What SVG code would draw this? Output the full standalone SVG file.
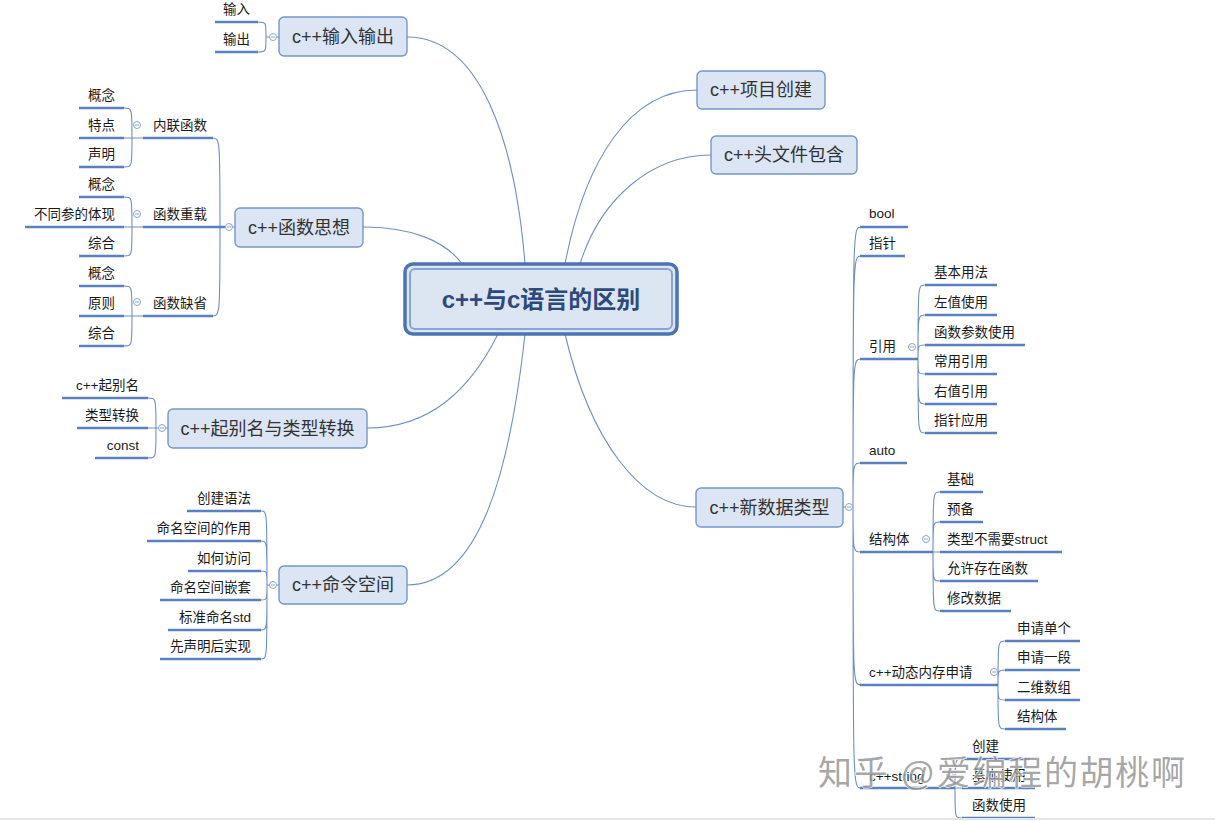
<svg xmlns="http://www.w3.org/2000/svg" width="1215" height="821" viewBox="0 0 1215 821">
<defs>
<style>
text{font-family:"Liberation Sans","Noto Sans CJK SC",sans-serif;}
.box{fill:#dbe5f3;stroke:#7596c9;stroke-width:1.4;}
.tt{font-size:18px;fill:#333;text-anchor:middle;}
.st{font-size:13.5px;fill:#1a1a1a;}
.e{text-anchor:end;}
.ul{stroke:#5a80c0;stroke-width:2.5;fill:none;}
.cn{stroke:#6f8fc6;stroke-width:1.1;fill:none;}
.tg{fill:#fff;stroke:#8ba4cf;stroke-width:1;}
.tm{stroke:#8ba4cf;stroke-width:1;}
</style>
</defs>
<rect width="1215" height="821" fill="#fff"/>

<g id="connectors">
<!-- main curves -->
<path class="cn" d="M525,264 C515,140 480,37 407,37"/>
<path class="cn" d="M463,265 C445,240 410,227 363,227"/>
<path class="cn" d="M498,334 C470,390 430,428 367,428"/>
<path class="cn" d="M525,334 C510,470 480,585 407,585"/>
<path class="cn" d="M565,334 C590,440 640,507 696,507"/>
<path class="cn" d="M565,264 C585,160 630,90 697,90"/>
<path class="cn" d="M580,264 C600,200 650,155 711,155"/>
<!-- input/output bracket -->
<path class="cn" d="M279,37 L266,37 M266,37 C266,22 266,22 258,22 M266,37 C266,52 266,52 258,52"/>
<!-- function bracket -->
<path class="cn" d="M235,227 L220,227 M220,227 C220,138 220,138 212,138 M220,227 C220,316 220,316 212,316"/>
<path class="cn" d="M143,138 L132,138 M132,138 C132,108 132,108 124,108 M132,138 L124,138 M132,138 C132,167 132,167 124,167"/>
<path class="cn" d="M143,227 L132,227 M132,227 C132,197 132,197 124,197 M132,227 L124,227 M132,227 C132,256 132,256 124,256"/>
<path class="cn" d="M143,316 L132,316 M132,316 C132,286 132,286 124,286 M132,316 L124,316 M132,316 C132,346 132,346 124,346"/>
<!-- alias bracket -->
<path class="cn" d="M168,428 L156,428 M156,428 C156,398 156,398 148,398 M156,428 L148,428 M156,428 C156,458 156,458 148,458"/>
<!-- namespace bracket -->
<path class="cn" d="M279,585 L267,585 M267,585 C267,511 267,511 261,511 M267,585 C267,541 267,541 261,541 M267,585 C267,571 267,571 261,571 M267,585 C267,600 267,600 261,600 M267,585 C267,630 267,630 261,630 M267,585 C267,659 267,659 261,659"/>
<!-- new types trunk -->
<path class="cn" d="M843,507 L853,507 M853,507 C853,227 853,227 861,227 M853,507 C853,256 853,256 861,256 M853,507 C853,359 853,359 861,359 M853,507 C853,463 853,463 861,463 M853,507 C853,552 853,552 861,552 M853,507 C853,685 853,685 861,685 M853,507 C853,788 853,788 861,788"/>
<!-- reference bracket -->
<path class="cn" d="M918,359 C918,285 918,285 925,285 M918,359 C918,315 918,315 925,315 M918,359 C918,345 918,345 925,345 M918,359 C918,374 918,374 925,374 M918,359 C918,404 918,404 925,404 M918,359 C918,433 918,433 925,433"/>
<!-- struct bracket -->
<path class="cn" d="M933,552 C933,492 933,492 940,492 M933,552 C933,522 933,522 940,522 M933,552 L940,552 M933,552 C933,581 933,581 940,581 M933,552 C933,611 933,611 940,611"/>
<!-- dynamic memory bracket -->
<path class="cn" d="M998,685 C998,641 998,641 1005,641 M998,685 C998,670 998,670 1005,670 M998,685 C998,700 998,700 1005,700 M998,685 C998,729 998,729 1005,729"/>
<!-- string bracket -->
<path class="cn" d="M955,788 C955,759 955,759 962,759 M955,788 L962,788 M955,788 C955,818 955,818 962,818"/>
</g>

<g id="center">
<rect x="405" y="264" width="272" height="70" rx="8" fill="#dce6f2" stroke="#4e73b3" stroke-width="3.5"/>
<rect x="410" y="269" width="262" height="60" rx="5" fill="none" stroke="#86a4d4" stroke-width="2"/>
<text x="541" y="308" text-anchor="middle" font-size="24" font-weight="bold" fill="#2e4a7a">c++与c语言的区别</text>
</g>

<g id="io">
<rect class="box" x="279" y="17" width="128" height="39" rx="5"/>
<text class="tt" x="343" y="43">c++输入输出</text>
<circle class="tg" cx="273" cy="37" r="3.5"/><line class="tm" x1="271" y1="37" x2="275" y2="37"/>
</g>
<g id="io-in"><text class="st e" x="250" y="14">输入</text><line class="ul" x1="215" y1="22" x2="258" y2="22"/></g>
<g id="io-out"><text class="st e" x="250" y="44">输出</text><line class="ul" x1="215" y1="52" x2="258" y2="52"/></g>

<g id="func">
<rect class="box" x="235" y="208" width="128" height="39" rx="5"/>
<text class="tt" x="299" y="234">c++函数思想</text>
<circle class="tg" cx="229" cy="227" r="3.5"/><line class="tm" x1="227" y1="227" x2="231" y2="227"/>
</g>
<g id="inline">
<text class="st" x="153" y="130">内联函数</text><line class="ul" x1="143" y1="138" x2="213" y2="138"/>
<circle class="tg" cx="137" cy="125" r="3.5"/><line class="tm" x1="135" y1="125" x2="139" y2="125"/>
</g>
<g id="inline-1"><text class="st e" x="115" y="100">概念</text><line class="ul" x1="79" y1="108" x2="124" y2="108"/></g>
<g id="inline-2"><text class="st e" x="115" y="130">特点</text><line class="ul" x1="79" y1="138" x2="124" y2="138"/></g>
<g id="inline-3"><text class="st e" x="115" y="159">声明</text><line class="ul" x1="79" y1="167" x2="124" y2="167"/></g>
<g id="overload">
<text class="st" x="153" y="219">函数重载</text><line class="ul" x1="143" y1="227" x2="225" y2="227"/>
<circle class="tg" cx="137" cy="214" r="3.5"/><line class="tm" x1="135" y1="214" x2="139" y2="214"/>
</g>
<g id="overload-1"><text class="st e" x="115" y="189">概念</text><line class="ul" x1="79" y1="197" x2="124" y2="197"/></g>
<g id="overload-2"><text class="st e" x="115" y="219">不同参的体现</text><line class="ul" x1="25" y1="227" x2="124" y2="227"/></g>
<g id="overload-3"><text class="st e" x="115" y="248">综合</text><line class="ul" x1="79" y1="256" x2="124" y2="256"/></g>
<g id="default">
<text class="st" x="153" y="308">函数缺省</text><line class="ul" x1="143" y1="316" x2="213" y2="316"/>
<circle class="tg" cx="137" cy="302" r="3.5"/><line class="tm" x1="135" y1="302" x2="139" y2="302"/>
</g>
<g id="default-1"><text class="st e" x="115" y="278">概念</text><line class="ul" x1="79" y1="286" x2="124" y2="286"/></g>
<g id="default-2"><text class="st e" x="115" y="308">原则</text><line class="ul" x1="79" y1="316" x2="124" y2="316"/></g>
<g id="default-3"><text class="st e" x="115" y="338">综合</text><line class="ul" x1="79" y1="346" x2="124" y2="346"/></g>

<g id="alias">
<rect class="box" x="168" y="409" width="199" height="39" rx="5"/>
<text class="tt" x="267.5" y="435">c++起别名与类型转换</text>
<circle class="tg" cx="162" cy="428" r="3.5"/><line class="tm" x1="160" y1="428" x2="164" y2="428"/>
</g>
<g id="alias-1"><text class="st e" x="139" y="390">c++起别名</text><line class="ul" x1="62" y1="398" x2="148" y2="398"/></g>
<g id="alias-2"><text class="st e" x="139" y="420">类型转换</text><line class="ul" x1="77" y1="428" x2="148" y2="428"/></g>
<g id="alias-3"><text class="st e" x="139" y="450">const</text><line class="ul" x1="95" y1="458" x2="148" y2="458"/></g>

<g id="ns">
<rect class="box" x="279" y="566" width="128" height="38" rx="5"/>
<text class="tt" x="343" y="591">c++命令空间</text>
<circle class="tg" cx="273" cy="585" r="3.5"/><line class="tm" x1="271" y1="585" x2="275" y2="585"/>
</g>
<g id="ns-1"><text class="st e" x="251" y="503">创建语法</text><line class="ul" x1="187" y1="511" x2="261" y2="511"/></g>
<g id="ns-2"><text class="st e" x="251" y="533">命名空间的作用</text><line class="ul" x1="147" y1="541" x2="261" y2="541"/></g>
<g id="ns-3"><text class="st e" x="251" y="563">如何访问</text><line class="ul" x1="188" y1="571" x2="261" y2="571"/></g>
<g id="ns-4"><text class="st e" x="251" y="592">命名空间嵌套</text><line class="ul" x1="160" y1="600" x2="261" y2="600"/></g>
<g id="ns-5"><text class="st e" x="251" y="622">标准命名std</text><line class="ul" x1="168" y1="630" x2="261" y2="630"/></g>
<g id="ns-6"><text class="st e" x="251" y="651">先声明后实现</text><line class="ul" x1="160" y1="659" x2="261" y2="659"/></g>

<g id="proj">
<rect class="box" x="697" y="71" width="128" height="38" rx="5"/>
<text class="tt" x="761" y="96">c++项目创建</text>
</g>
<g id="header">
<rect class="box" x="711" y="136" width="146" height="38" rx="5"/>
<text class="tt" x="784" y="161">c++头文件包含</text>
</g>

<g id="types">
<rect class="box" x="696" y="488" width="147" height="39" rx="5"/>
<text class="tt" x="769.5" y="514">c++新数据类型</text>
<circle class="tg" cx="849" cy="507" r="3.5"/><line class="tm" x1="847" y1="507" x2="851" y2="507"/>
</g>
<g id="t-bool"><text class="st" x="869" y="218">bool</text><line class="ul" x1="860" y1="227" x2="908" y2="227"/></g>
<g id="t-ptr"><text class="st" x="869" y="248">指针</text><line class="ul" x1="860" y1="256" x2="905" y2="256"/></g>
<g id="t-ref">
<text class="st" x="869" y="351">引用</text><line class="ul" x1="860" y1="359" x2="918" y2="359"/>
<circle class="tg" cx="912" cy="347" r="3.5"/><line class="tm" x1="910" y1="347" x2="914" y2="347"/>
</g>
<g id="ref-1"><text class="st" x="934" y="277">基本用法</text><line class="ul" x1="925" y1="285" x2="997" y2="285"/></g>
<g id="ref-2"><text class="st" x="934" y="307">左值使用</text><line class="ul" x1="925" y1="315" x2="997" y2="315"/></g>
<g id="ref-3"><text class="st" x="934" y="337">函数参数使用</text><line class="ul" x1="925" y1="345" x2="1025" y2="345"/></g>
<g id="ref-4"><text class="st" x="934" y="366">常用引用</text><line class="ul" x1="925" y1="374" x2="997" y2="374"/></g>
<g id="ref-5"><text class="st" x="934" y="396">右值引用</text><line class="ul" x1="925" y1="404" x2="997" y2="404"/></g>
<g id="ref-6"><text class="st" x="934" y="425">指针应用</text><line class="ul" x1="925" y1="433" x2="997" y2="433"/></g>
<g id="t-auto"><text class="st" x="869" y="455">auto</text><line class="ul" x1="860" y1="463" x2="907" y2="463"/></g>
<g id="t-struct">
<text class="st" x="869" y="544">结构体</text><line class="ul" x1="860" y1="552" x2="933" y2="552"/>
<circle class="tg" cx="926" cy="539" r="3.5"/><line class="tm" x1="924" y1="539" x2="928" y2="539"/>
</g>
<g id="st-1"><text class="st" x="947" y="484">基础</text><line class="ul" x1="940" y1="492" x2="983" y2="492"/></g>
<g id="st-2"><text class="st" x="947" y="514">预备</text><line class="ul" x1="940" y1="522" x2="983" y2="522"/></g>
<g id="st-3"><text class="st" x="947" y="544">类型不需要struct</text><line class="ul" x1="940" y1="552" x2="1062" y2="552"/></g>
<g id="st-4"><text class="st" x="947" y="573">允许存在函数</text><line class="ul" x1="940" y1="581" x2="1038" y2="581"/></g>
<g id="st-5"><text class="st" x="947" y="603">修改数据</text><line class="ul" x1="940" y1="611" x2="1011" y2="611"/></g>
<g id="t-mem">
<text class="st" x="869" y="677">c++动态内存申请</text><line class="ul" x1="860" y1="685" x2="998" y2="685"/>
<circle class="tg" cx="994" cy="672" r="3.5"/><line class="tm" x1="992" y1="672" x2="996" y2="672"/>
</g>
<g id="mem-1"><text class="st" x="1017" y="633">申请单个</text><line class="ul" x1="1005" y1="641" x2="1080" y2="641"/></g>
<g id="mem-2"><text class="st" x="1017" y="662">申请一段</text><line class="ul" x1="1005" y1="670" x2="1080" y2="670"/></g>
<g id="mem-3"><text class="st" x="1017" y="692">二维数组</text><line class="ul" x1="1005" y1="700" x2="1080" y2="700"/></g>
<g id="mem-4"><text class="st" x="1017" y="721">结构体</text><line class="ul" x1="1005" y1="729" x2="1066" y2="729"/></g>
<g id="t-string">
<text class="st" x="869" y="781">c++string</text><line class="ul" x1="860" y1="788" x2="955" y2="788"/>
<circle class="tg" cx="950" cy="776" r="3.5"/><line class="tm" x1="948" y1="776" x2="952" y2="776"/>
</g>
<g id="str-1"><text class="st" x="972" y="751">创建</text><line class="ul" x1="962" y1="759" x2="1030" y2="759"/></g>
<g id="str-2"><text class="st" x="972" y="780">基本使用</text><line class="ul" x1="962" y1="788" x2="1035" y2="788"/></g>
<g id="str-3"><text class="st" x="972" y="810">函数使用</text><line class="ul" x1="962" y1="818" x2="1035" y2="818"/></g>

<line x1="0" y1="819" x2="1215" y2="819" stroke="#e6e6e6" stroke-width="2"/>
<text x="818" y="785" font-size="34" fill="#8a8a8a" fill-opacity="0.75" stroke="#fff" stroke-width="1" paint-order="stroke" textLength="367" lengthAdjust="spacing">知乎 @爱编程的胡桃啊</text>
</svg>
